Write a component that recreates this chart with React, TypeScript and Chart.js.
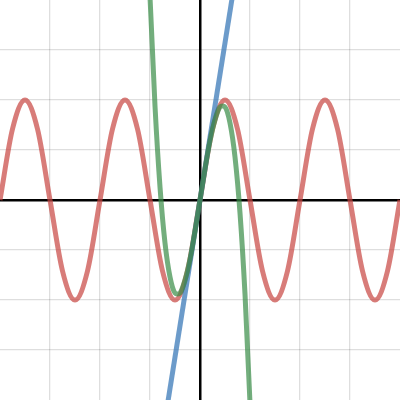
import React, { useRef, useEffect } from "react";
import { Chart, registerables } from "chart.js";

Chart.register(...registerables);

// x axis is in multiples of pi (one grid cell = pi), y in plain units
const sineX = [
  -4, -3.75, -3.5, -3.25, -3, -2.75, -2.5, -2.25, -2, -1.75, -1.5, -1.25, -1, -0.75, -0.5, -0.25,
  0, 0.25, 0.5, 0.75, 1, 1.25, 1.5, 1.75, 2, 2.25, 2.5, 2.75, 3, 3.25, 3.5, 3.75, 4,
];
const sineY = [
  0, 0.71, 1, 0.71, 0, -0.71, -1, -0.71, 0, 0.71, 1, 0.71, 0, -0.71, -1, -0.71,
  0, 0.71, 1, 0.71, 0, -0.71, -1, -0.71, 0, 0.71, 1, 0.71, 0, -0.71, -1, -0.71, 0,
];

const lineX = [-0.7, 0.7];
const lineY = [-2.2, 2.2];

const cubicX = [
  -1.1, -1, -0.9, -0.8, -0.7, -0.6, -0.5, -0.45, -0.4, -0.3, -0.2, -0.1,
  0, 0.1, 0.2, 0.3, 0.4, 0.45, 0.5, 0.6, 0.7, 0.8, 0.9, 1, 1.1,
];
const cubicY = [
  3.42, 2.03, 0.94, 0.13, -0.43, -0.77, -0.93, -0.94, -0.93, -0.8, -0.59, -0.31,
  0, 0.31, 0.59, 0.8, 0.93, 0.94, 0.93, 0.77, 0.43, -0.13, -0.94, -2.03, -3.42,
];

const xTicks = [-4, -3, -2, -1, 0, 1, 2, 3, 4];
const yTicks = [-2, -1.5, -1, -0.5, 0, 0.5, 1, 1.5, 2];

const pts = (xs: number[], ys: number[]) => xs.map((x, i) => ({ x, y: ys[i] }));

const gridColor = (edgeMin: number, edgeMax: number) => (ctx: any) => {
  const v = ctx.tick?.value;
  if (v === edgeMin || v === edgeMax) return "rgba(0,0,0,0)";
  if (v === 0) return "#000";
  return "rgba(0,0,0,0.13)";
};
const gridWidth = (ctx: any) => (ctx.tick?.value === 0 ? 2.5 : 1.3);

const App = () => {
  const canvasRef = useRef<HTMLCanvasElement>(null);
  const chartRef = useRef<Chart | null>(null);

  useEffect(() => {
    const canvas = canvasRef.current;
    if (!canvas) return;
    if (chartRef.current) chartRef.current.destroy();

    chartRef.current = new Chart(canvas, {
      type: "line",
      data: {
        datasets: [
          {
            label: "x - x³/6",
            data: pts(cubicX, cubicY),
            borderColor: "rgba(56,140,70,0.7)",
            borderWidth: 5,
            pointRadius: 0,
            cubicInterpolationMode: "monotone",
            order: 0,
          },
          {
            label: "x",
            data: pts(lineX, lineY),
            borderColor: "rgba(45,112,179,0.7)",
            borderWidth: 5,
            pointRadius: 0,
            order: 1,
          },
          {
            label: "sin x",
            data: pts(sineX, sineY),
            borderColor: "rgba(199,68,64,0.7)",
            borderWidth: 5,
            pointRadius: 0,
            cubicInterpolationMode: "monotone",
            order: 2,
          },
        ],
      },
      options: {
        responsive: true,
        maintainAspectRatio: false,
        animation: false,
        layout: { padding: 0 },
        plugins: { legend: { display: false }, tooltip: { enabled: false } },
        scales: {
          x: {
            type: "linear",
            min: -4,
            max: 4,
            afterBuildTicks: (s: any) => {
              s.ticks = xTicks.map((value) => ({ value }));
            },
            ticks: { display: false },
            border: { display: false },
            grid: { color: gridColor(-4, 4), lineWidth: gridWidth, drawTicks: false },
          },
          y: {
            type: "linear",
            min: -2,
            max: 2,
            afterBuildTicks: (s: any) => {
              s.ticks = yTicks.map((value) => ({ value }));
            },
            ticks: { display: false },
            border: { display: false },
            grid: { color: gridColor(-2, 2), lineWidth: gridWidth, drawTicks: false },
          },
        },
      },
    });

    return () => {
      chartRef.current?.destroy();
    };
  }, []);

  return (
    <div style={{ position: "fixed", left: 0, top: 0, width: 400, height: 400, background: "#fff" }}>
      <canvas ref={canvasRef} />
    </div>
  );
};

export default App;
